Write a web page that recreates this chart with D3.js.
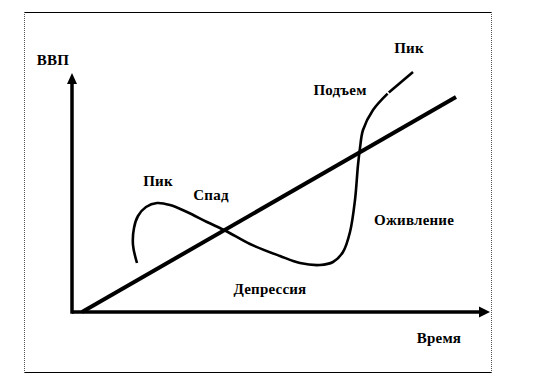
<!DOCTYPE html>
<html>
<head>
<meta charset="utf-8">
<script src="https://cdn.jsdelivr.net/npm/d3@7"></script>
<style>
  html, body { margin: 0; padding: 0; background: #fff; }
  svg { display: block; }
</style>
</head>
<body>
<svg id="chart" width="540" height="384"></svg>
<script>
// ---- data (time units, GDP units) ----
const trendX = [2.5, 96];
const trendY = [0, 107.5];

const cycleX = [16.25, 15.25, 15.5, 16.5, 18.5, 21.25, 24.5, 28.75, 33.75, 38.5, 44.5, 52, 57, 62, 65.25, 67.75, 69.5, 70.75, 71.5, 72, 72.75, 75.25, 78.9];
const cycleY = [24.5, 33.5, 42, 48, 52.5, 54.5, 53.5, 50, 45, 40.5, 34, 28, 24.5, 23.5, 25, 30, 40, 56, 73.5, 82, 91, 101, 109.2];

const peakX = [79.2, 85.25];
const peakY = [109.8, 120];

const axisLabels = ["ВВП", "Время"];
const phaseLabels = ["Пик", "Спад", "Депрессия", "Оживление", "Подъем", "Пик"];

// ---- layout ----
const svg = d3.select("#chart");
const x = d3.scaleLinear().domain([0, 100]).range([72, 472]);
const y = d3.scaleLinear().domain([0, 100]).range([312, 112]);
const xAxisEnd = 104.5;   // arrow tip
const yAxisEnd = 119.5;   // arrow tip

// frame
svg.append("line").attr("x1", 24).attr("x2", 492).attr("y1", 12.5).attr("y2", 12.5)
  .attr("stroke", "#000").attr("stroke-width", 1);
svg.append("line").attr("x1", 24).attr("x2", 492).attr("y1", 372.5).attr("y2", 372.5)
  .attr("stroke", "#000").attr("stroke-width", 1);
[24.5, 491.5].forEach(px => {
  svg.append("line").attr("x1", px).attr("x2", px).attr("y1", 12).attr("y2", 373)
    .attr("stroke", "#555").attr("stroke-width", 1).attr("stroke-dasharray", "1,1");
});

// axes
const ox = x(0), oy = y(0);
svg.append("line").attr("x1", ox).attr("y1", oy).attr("x2", x(xAxisEnd) - 8).attr("y2", oy)
  .attr("stroke", "#000").attr("stroke-width", 3.5);
svg.append("line").attr("x1", ox).attr("y1", oy + 1.75).attr("x2", ox).attr("y2", y(yAxisEnd) + 8)
  .attr("stroke", "#000").attr("stroke-width", 3.5);
const xt = x(xAxisEnd), yt = y(yAxisEnd);
svg.append("path").attr("d", `M${xt},${oy} L${xt - 11},${oy - 5.5} L${xt - 11},${oy + 5.5} Z`).attr("fill", "#000");
svg.append("path").attr("d", `M${ox},${yt} L${ox - 5},${yt + 11} L${ox + 5},${yt + 11} Z`).attr("fill", "#000");

// trend line
const line = d3.line().x(d => x(d[0])).y(d => y(d[1]));
svg.append("path").datum(d3.zip(trendX, trendY)).attr("d", line)
  .attr("fill", "none").attr("stroke", "#000").attr("stroke-width", 4);

// cycle curve
const curve = d3.line().x(d => x(d[0])).y(d => y(d[1])).curve(d3.curveCatmullRom.alpha(0.5));
svg.append("path").datum(d3.zip(cycleX, cycleY)).attr("d", curve)
  .attr("fill", "none").attr("stroke", "#000").attr("stroke-width", 2.6);
svg.append("path").datum(d3.zip(peakX, peakY)).attr("d", line)
  .attr("fill", "none").attr("stroke", "#000").attr("stroke-width", 2.6);

// labels (pixel centres)
function label(t, px, py) {
  svg.append("text").attr("x", px).attr("y", py).attr("dy", "0.35em")
    .attr("text-anchor", "middle")
    .attr("font-family", "Liberation Serif").attr("font-weight", "bold").attr("font-size", 15)
    .attr("letter-spacing", 0.2)
    .attr("fill", "#000").text(t);
}
const axisLabelPos = [[53, 60], [439, 338]];
axisLabels.forEach((t, i) => label(t, axisLabelPos[i][0], axisLabelPos[i][1]));
const phaseLabelPos = [[158, 181], [211, 195], [270, 289], [414, 220], [340, 90], [409, 48]];
phaseLabels.forEach((t, i) => label(t, phaseLabelPos[i][0], phaseLabelPos[i][1]));
</script>
</body>
</html>
